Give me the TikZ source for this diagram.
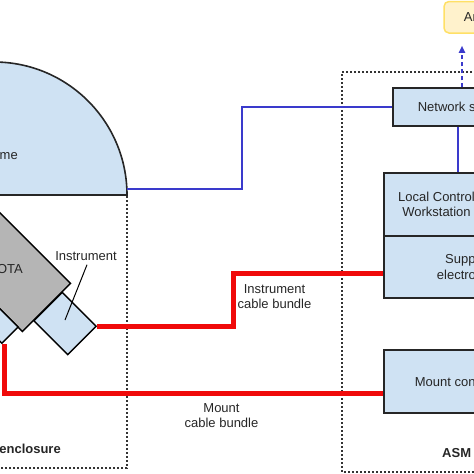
\documentclass[tikz,border=0pt]{standalone}
\usepackage{fontspec}
\setmainfont{Liberation Sans}
\usetikzlibrary{arrows.meta,calc}
\definecolor{boxfill}{HTML}{CFE2F3}
\definecolor{netblue}{HTML}{3A3ACC}
\definecolor{cablered}{HTML}{F00A0A}
\definecolor{otagray}{HTML}{B5B5B5}
\definecolor{annfill}{HTML}{FFF2CC}
\definecolor{anndraw}{HTML}{FFE066}
\definecolor{txt}{HTML}{262626}
\begin{document}
\begin{tikzpicture}[x=1pt,y=1pt,
  every node/.style={font=\fontsize{13}{15.5}\selectfont, text=txt, inner sep=0pt},
  box/.style={draw=txt, line width=1.4pt, fill=boxfill, rectangle, align=center},
  otabox/.style={draw=black, line width=1.4pt, fill=otagray, rectangle},
  instbox/.style={draw=black, line width=1.4pt, fill=boxfill, rectangle},
  annbox/.style={draw=anndraw, line width=1.5pt, fill=annfill, rounded corners=5pt, rectangle},
  net/.style={draw=netblue, line width=1.8pt},
  netdash/.style={draw=netblue, line width=1.8pt, dash pattern=on 4pt off 3pt, -{Triangle[length=7pt,width=6pt]}},
  cable/.style={draw=cablered, line width=5pt},
  encl/.style={draw=black!80, line width=1.6pt, dash pattern=on 1.6pt off 2.4pt},
  leader/.style={draw=black, line width=1pt},
  bold/.style={font=\fontsize{13}{15.5}\selectfont\bfseries}]
\path[use as bounding box] (0,0) rectangle (474,-474);
\clip (0,0) rectangle (474,-474);

% dome
\draw[fill=boxfill, draw=txt, line width=1.6pt] (127,-195) arc[start angle=0, end angle=180, radius=133] -- cycle;
\coordinate (domeport) at (127,-189);
\coordinate (domecorner) at (127,-196);
\node[anchor=east] (domelbl) at (18,-155) {Dome};

% enclosures
\draw[encl] (domecorner) -- (127,-468) -- (-5,-468);
\draw[encl] (600,-72) -- (342,-72) -- (342,-472) -- (600,-472);
\node[bold, anchor=east] (domeencl) at (61,-449) {Dome enclosure};
\node[bold, anchor=west] (asmlbl) at (442,-453) {ASM enclosure};

% boxes
\node[box, minimum width=137, minimum height=38] (netsw) at (461.5,-107) {Network switch};
\node[box, minimum width=105, minimum height=63] (lcw) at (436.5,-204.5) {Local Control\\Workstation};
\node[box, minimum width=168, minimum height=62] (supp) at (468,-267) {Support\\electronics};
\node[box, minimum width=155, minimum height=63] (mctl) at (461.5,-381.5) {Mount controller};
\node[annbox, minimum width=83, minimum height=31.5] (ann) at (485.5,-17.25) {Archive};

\coordinate (arrx) at (462,0);
\coordinate (vx) at (458,0);

% OTA and instrument
\node[otabox, minimum width=160, minimum height=68, rotate=-45] (ota) at (-10.1,-250.9) {};
\node[instbox, minimum width=60, minimum height=23, rotate=-45] (mountbox) at (-11.3,-313.9) {};
\node[instbox, minimum width=48, minimum height=40, rotate=-45] (inst) at (65,-323.5) {};
\node[anchor=east] (otalbl) at (23,-269) {OTA};
\node (instlbl) at (86,-256) {Instrument};
\draw[leader] ([xshift=1pt,yshift=-4pt]instlbl.south) -- ([yshift=3.5pt]inst.center);

% cables
\draw[cable] (inst.north east) -- ++(136,0) |- ([yshift=-6pt]supp.west);
\draw[cable] ([xshift=3pt]mountbox.south east) |- ([yshift=-11.5pt]mctl.west);

\node[align=center] (icb) at (274.5,-296.5) {Instrument\\cable bundle};
\node[align=center] (mcb) at (221.5,-415.5) {Mount\\cable bundle};

% network
\draw[net] (domeport) -- (242,-189) |- (netsw.west);
\draw[net] (netsw.south -| vx) -- (lcw.north -| vx);
\draw[netdash] (netsw.north -| arrx) -- ([yshift=-12pt]ann.south -| arrx);
\end{tikzpicture}
\end{document}
